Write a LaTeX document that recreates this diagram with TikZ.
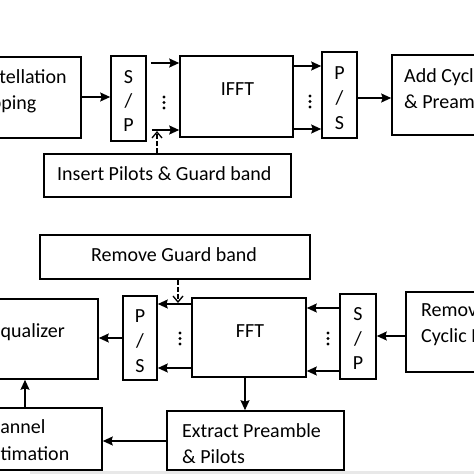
\documentclass[tikz,border=0pt]{standalone}
\usepackage{fontspec}
\setmainfont{Carlito}
\usetikzlibrary{arrows.meta}
\begin{document}
\begin{tikzpicture}[x=1pt,y=-1pt,
  box/.style={draw,line width=1.6pt,inner sep=0pt},
  txt/.style={anchor=base west,inner sep=0pt,font=\fontsize{20}{26}\selectfont},
  ctxt/.style={anchor=base,inner sep=0pt,font=\fontsize{20}{26}\selectfont},
  arr/.style={line width=1.6pt,-{Stealth[length=10pt,width=9pt,inset=1.5pt]}},
  darr/.style={line width=1.3pt,dash pattern=on 5pt off 2pt,-{Straight Barb[length=6pt,width=10pt,line width=1.3pt]}},
  dot/.style={fill,circle,inner sep=0pt,minimum size=3.4pt}]
\useasboundingbox (0,0) rectangle (474,474);
\clip (0,0) rectangle (474,474);
\fill[white] (0,0) rectangle (474,474);
\fill[black!9] (30,471) rectangle (474,474);
% boxes
\node[box,minimum width=141pt,minimum height=81pt] (CM) at (10.5,97.5) {};
\node[box,minimum width=35pt,minimum height=85pt] (SP1) at (128.5,98.5) {};
\node[box,minimum width=113pt,minimum height=81pt] (IFFT) at (236.5,96.5) {};
\node[box,minimum width=35pt,minimum height=86pt] (PS1) at (339.5,95) {};
\node[box,minimum width=128pt,minimum height=80pt] (ACP) at (456,95) {};
\node[box,minimum width=247pt,minimum height=43pt] (INS) at (167.5,175.5) {};
\node[box,minimum width=270pt,minimum height=44pt] (RGB) at (175,257) {};
\node[box,minimum width=158pt,minimum height=80pt] (EQ) at (19,339) {};
\node[box,minimum width=34pt,minimum height=84pt] (PS2) at (140,338) {};
\node[box,minimum width=114pt,minimum height=79pt] (FFT) at (249,337.5) {};
\node[box,minimum width=36pt,minimum height=85pt] (SP2) at (358,336.5) {};
\node[box,minimum width=114pt,minimum height=80pt] (RCP) at (463,332) {};
\node[box,minimum width=177pt,minimum height=59pt] (EXT) at (255.5,440.5) {};
\node[box,minimum width=162pt,minimum height=62pt] (CE) at (21,439) {};
% texts
\node[txt] (tcm1) at (-40,83) {Constellation};
\node[txt] (tcm2) at (-36,109) {Mapping};
\node[ctxt] (tsp1a) at (128.5,83) {S};
\node[ctxt] (tsp1b) at (128.5,107) {/};
\node[ctxt] (tsp1c) at (128.5,131) {P};
\node[ctxt] (tifft) at (237.5,95) {IFFT};
\node[ctxt] (tps1a) at (339.5,79) {P};
\node[ctxt] (tps1b) at (339.5,104) {/};
\node[ctxt] (tps1c) at (339.5,129) {S};
\node[txt] (tacp1) at (404,82) {Add Cyclic Prefix};
\node[txt] (tacp2) at (404,108) {\& Preamble};
\node[txt] (tins) at (57,180) {Insert Pilots \& Guard band};
\node[txt] (trgb) at (91,261) {Remove Guard band};
\node[txt] (teq) at (-9,337) {Equalizer};
\node[ctxt] (tps2a) at (140,322) {P};
\node[ctxt] (tps2b) at (140,347) {/};
\node[ctxt] (tps2c) at (140,372) {S};
\node[ctxt] (tfft) at (250,337) {FFT};
\node[ctxt] (tsp2a) at (358,320) {S};
\node[ctxt] (tsp2b) at (358,345) {/};
\node[ctxt] (tsp2c) at (358,369) {P};
\node[txt] (trcp1) at (421,316) {Remove};
\node[txt] (trcp2) at (421,342) {Cyclic Prefix};
\node[txt] (text1) at (182,437) {Extract Preamble};
\node[txt] (text2) at (182,463) {\& Pilots};
\node[txt] (tce1) at (-21,433) {Channel};
\node[txt] (tce2) at (-17,460) {Estimation};
% vertical dots
\foreach \x/\y in {164/97, 310/96, 180/333, 328/333}{
  \node[dot] at (\x,\y) {};
  \node[dot] at (\x,\y+5.5) {};
  \node[dot] at (\x,\y+11) {};
}
% connectors, top chain
\draw[arr] (CM.east |- 0,97) -- (SP1.west |- 0,97);
\draw[arr,shorten <=4pt] (SP1.east |- 0,63) -- (IFFT.west |- 0,63);
\draw[arr,shorten <=5pt] (SP1.east |- 0,130) -- (IFFT.west |- 0,130);
\draw[arr] (IFFT.east |- 0,66) -- (PS1.west |- 0,66);
\draw[arr] (IFFT.east |- 0,129) -- (PS1.west |- 0,129);
\draw[arr] (PS1.east |- 0,98) -- (ACP.west |- 0,98);
\draw[darr] (INS.north -| 157,0) -- (157,131);
% bottom chain
\draw[arr] (RCP.west |- 0,336) -- (SP2.east |- 0,336);
\draw[arr] (SP2.west |- 0,308) -- (FFT.east |- 0,308);
\draw[arr] (SP2.west |- 0,371) -- (FFT.east |- 0,371);
\draw[arr] (FFT.west |- 0,304) -- (PS2.east |- 0,304);
\draw[arr] (FFT.west |- 0,368) -- (PS2.east |- 0,368);
\draw[arr] (PS2.west |- 0,338) -- (EQ.east |- 0,338);
\draw[darr] (RGB.south -| 178,0) -- (178,303);
\draw[arr] (FFT.south -| 245,0) -- (EXT.north -| 245,0);
\draw[arr] (EXT.west |- 0,441) -- (CE.east |- 0,441);
\draw[arr] (CE.north -| 25,0) -- (EQ.south -| 25,0);
\end{tikzpicture}
\end{document}
